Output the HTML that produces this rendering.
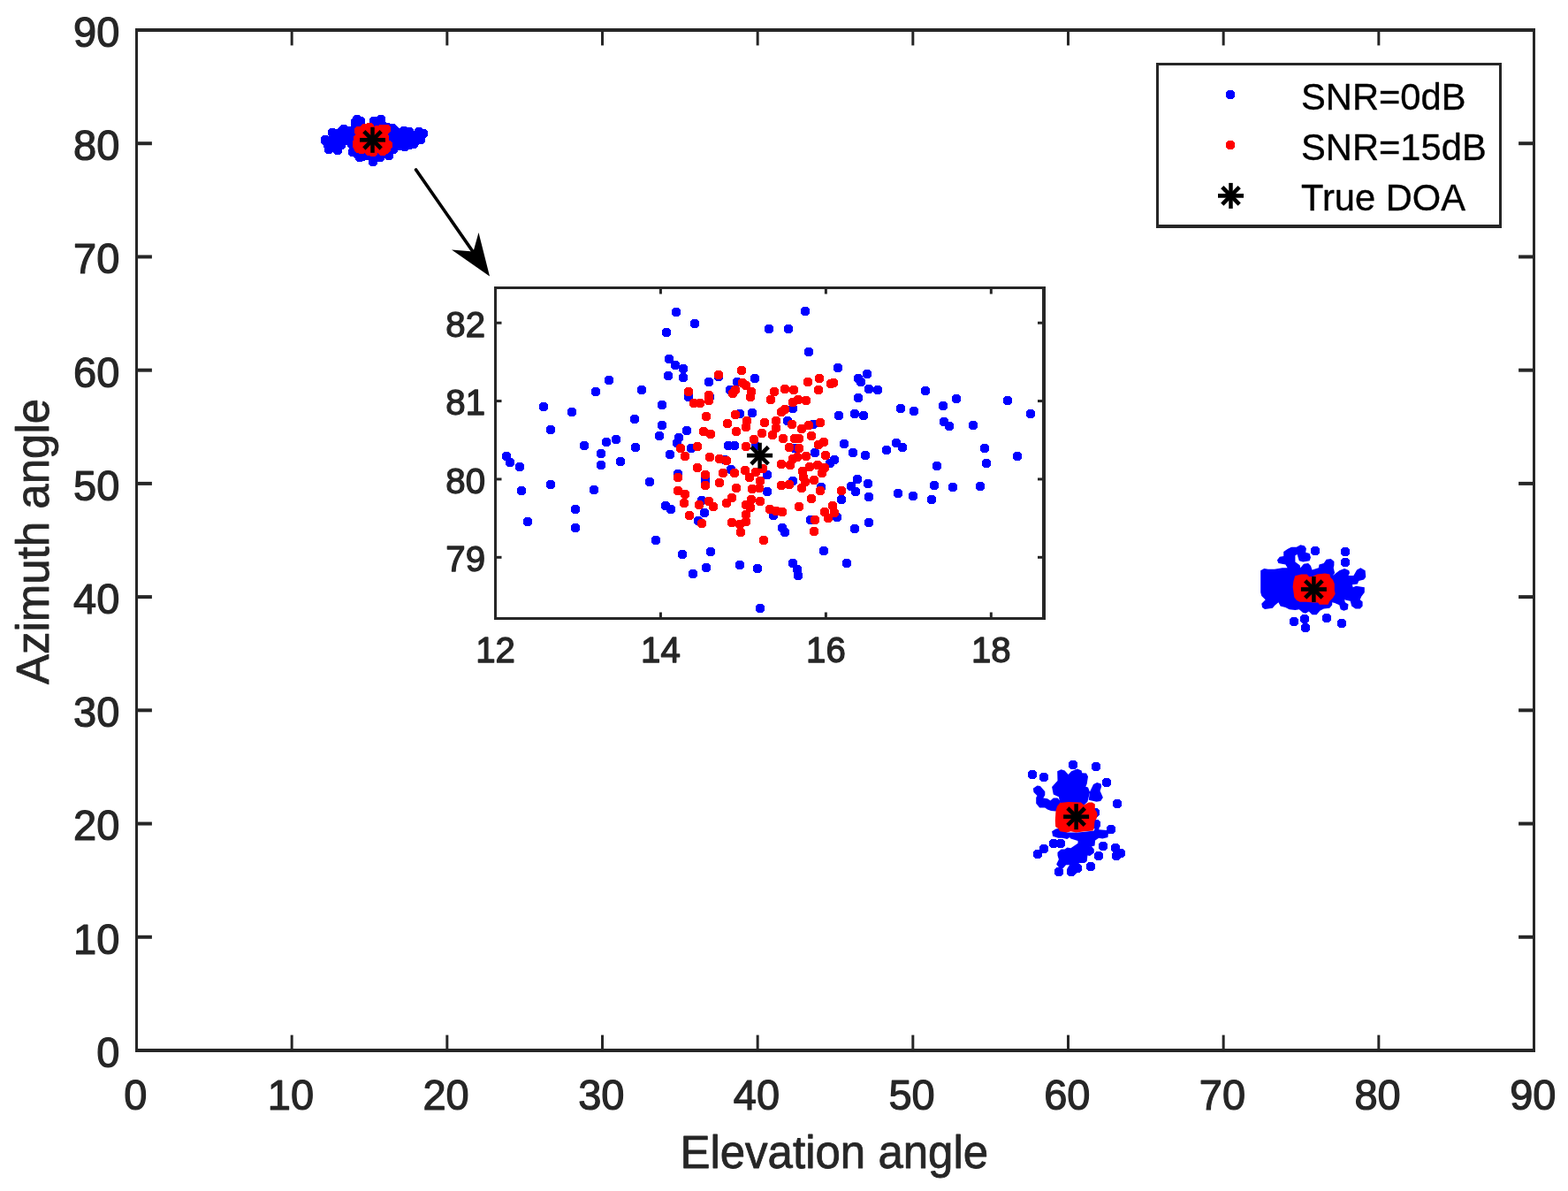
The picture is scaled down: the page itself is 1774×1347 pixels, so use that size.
<!DOCTYPE html>
<html><head><meta charset="utf-8"><title>DOA estimation scatter</title>
<style>html,body{margin:0;padding:0;background:#fff;} svg{display:block;}</style></head>
<body>
<svg width="1774" height="1347" viewBox="0 0 1774 1347">
<rect width="1774" height="1347" fill="#ffffff"/>
<path fill="#0000ff" shape-rendering="crispEdges" d="M401,130h6v1h1v1h1v6h-1v1h-1v1h-6v-1h-1v-1h-1v-6h1v-1h1zM399,133h6v1h1v1h1v6h-1v1h-1v1h-6v-1h-1v-1h-1v-6h1v-1h1zM399,137h6v1h1v1h1v6h-1v1h-1v1h-6v-1h-1v-1h-1v-6h1v-1h1zM401,138h6v1h1v1h1v6h-1v1h-1v1h-6v-1h-1v-1h-1v-6h1v-1h1zM399,140h6v1h1v1h1v6h-1v1h-1v1h-6v-1h-1v-1h-1v-6h1v-1h1zM386,141h6v1h1v1h1v6h-1v1h-1v1h-6v-1h-1v-1h-1v-6h1v-1h1zM384,143h6v1h1v1h1v6h-1v1h-1v1h-6v-1h-1v-1h-1v-6h1v-1h1zM393,143h6v1h1v1h1v6h-1v1h-1v1h-6v-1h-1v-1h-1v-6h1v-1h1zM398,145h6v1h1v1h1v6h-1v1h-1v1h-6v-1h-1v-1h-1v-6h1v-1h1zM373,145h6v1h1v1h1v6h-1v1h-1v1h-6v-1h-1v-1h-1v-6h1v-1h1zM379,146h6v1h1v1h1v6h-1v1h-1v1h-6v-1h-1v-1h-1v-6h1v-1h1zM392,147h6v1h1v1h1v6h-1v1h-1v1h-6v-1h-1v-1h-1v-6h1v-1h1zM398,148h6v1h1v1h1v6h-1v1h-1v1h-6v-1h-1v-1h-1v-6h1v-1h1zM374,149h6v1h1v1h1v6h-1v1h-1v1h-6v-1h-1v-1h-1v-6h1v-1h1zM397,150h6v1h1v1h1v6h-1v1h-1v1h-6v-1h-1v-1h-1v-6h1v-1h1zM388,151h6v1h1v1h1v6h-1v1h-1v1h-6v-1h-1v-1h-1v-6h1v-1h1zM386,151h6v1h1v1h1v6h-1v1h-1v1h-6v-1h-1v-1h-1v-6h1v-1h1zM381,152h6v1h1v1h1v6h-1v1h-1v1h-6v-1h-1v-1h-1v-6h1v-1h1zM392,152h6v1h1v1h1v6h-1v1h-1v1h-6v-1h-1v-1h-1v-6h1v-1h1zM385,153h6v1h1v1h1v6h-1v1h-1v1h-6v-1h-1v-1h-1v-6h1v-1h1zM389,154h6v1h1v1h1v6h-1v1h-1v1h-6v-1h-1v-1h-1v-6h1v-1h1zM385,155h6v1h1v1h1v6h-1v1h-1v1h-6v-1h-1v-1h-1v-6h1v-1h1zM399,153h6v1h1v1h1v6h-1v1h-1v1h-6v-1h-1v-1h-1v-6h1v-1h1zM365,153h6v1h1v1h1v6h-1v1h-1v1h-6v-1h-1v-1h-1v-6h1v-1h1zM365,154h6v1h1v1h1v6h-1v1h-1v1h-6v-1h-1v-1h-1v-6h1v-1h1zM367,155h6v1h1v1h1v6h-1v1h-1v1h-6v-1h-1v-1h-1v-6h1v-1h1zM374,158h6v1h1v1h1v6h-1v1h-1v1h-6v-1h-1v-1h-1v-6h1v-1h1zM368,159h6v1h1v1h1v6h-1v1h-1v1h-6v-1h-1v-1h-1v-6h1v-1h1zM383,159h6v1h1v1h1v6h-1v1h-1v1h-6v-1h-1v-1h-1v-6h1v-1h1zM395,158h6v1h1v1h1v6h-1v1h-1v1h-6v-1h-1v-1h-1v-6h1v-1h1zM379,162h6v1h1v1h1v6h-1v1h-1v1h-6v-1h-1v-1h-1v-6h1v-1h1zM399,162h6v1h1v1h1v6h-1v1h-1v1h-6v-1h-1v-1h-1v-6h1v-1h1zM400,162h6v1h1v1h1v6h-1v1h-1v1h-6v-1h-1v-1h-1v-6h1v-1h1zM369,164h6v1h1v1h1v6h-1v1h-1v1h-6v-1h-1v-1h-1v-6h1v-1h1zM379,165h6v1h1v1h1v6h-1v1h-1v1h-6v-1h-1v-1h-1v-6h1v-1h1zM396,167h6v1h1v1h1v6h-1v1h-1v1h-6v-1h-1v-1h-1v-6h1v-1h1zM405,132h6v1h1v1h1v6h-1v1h-1v1h-6v-1h-1v-1h-1v-6h1v-1h1zM420,132h6v1h1v1h1v6h-1v1h-1v1h-6v-1h-1v-1h-1v-6h1v-1h1zM425,133h6v1h1v1h1v6h-1v1h-1v1h-6v-1h-1v-1h-1v-6h1v-1h1zM428,130h6v1h1v1h1v6h-1v1h-1v1h-6v-1h-1v-1h-1v-6h1v-1h1zM429,136h6v1h1v1h1v6h-1v1h-1v1h-6v-1h-1v-1h-1v-6h1v-1h1zM435,139h6v1h1v1h1v6h-1v1h-1v1h-6v-1h-1v-1h-1v-6h1v-1h1zM435,147h6v1h1v1h1v6h-1v1h-1v1h-6v-1h-1v-1h-1v-6h1v-1h1zM402,139h6v1h1v1h1v6h-1v1h-1v1h-6v-1h-1v-1h-1v-6h1v-1h1zM402,141h6v1h1v1h1v6h-1v1h-1v1h-6v-1h-1v-1h-1v-6h1v-1h1zM408,141h6v1h1v1h1v6h-1v1h-1v1h-6v-1h-1v-1h-1v-6h1v-1h1zM410,140h6v1h1v1h1v6h-1v1h-1v1h-6v-1h-1v-1h-1v-6h1v-1h1zM417,141h6v1h1v1h1v6h-1v1h-1v1h-6v-1h-1v-1h-1v-6h1v-1h1zM414,141h6v1h1v1h1v6h-1v1h-1v1h-6v-1h-1v-1h-1v-6h1v-1h1zM412,143h6v1h1v1h1v6h-1v1h-1v1h-6v-1h-1v-1h-1v-6h1v-1h1zM403,144h6v1h1v1h1v6h-1v1h-1v1h-6v-1h-1v-1h-1v-6h1v-1h1zM408,144h6v1h1v1h1v6h-1v1h-1v1h-6v-1h-1v-1h-1v-6h1v-1h1zM425,146h6v1h1v1h1v6h-1v1h-1v1h-6v-1h-1v-1h-1v-6h1v-1h1zM414,147h6v1h1v1h1v6h-1v1h-1v1h-6v-1h-1v-1h-1v-6h1v-1h1zM417,146h6v1h1v1h1v6h-1v1h-1v1h-6v-1h-1v-1h-1v-6h1v-1h1zM424,148h6v1h1v1h1v6h-1v1h-1v1h-6v-1h-1v-1h-1v-6h1v-1h1zM403,149h6v1h1v1h1v6h-1v1h-1v1h-6v-1h-1v-1h-1v-6h1v-1h1zM401,150h6v1h1v1h1v6h-1v1h-1v1h-6v-1h-1v-1h-1v-6h1v-1h1zM401,151h6v1h1v1h1v6h-1v1h-1v1h-6v-1h-1v-1h-1v-6h1v-1h1zM404,152h6v1h1v1h1v6h-1v1h-1v1h-6v-1h-1v-1h-1v-6h1v-1h1zM412,152h6v1h1v1h1v6h-1v1h-1v1h-6v-1h-1v-1h-1v-6h1v-1h1zM413,152h6v1h1v1h1v6h-1v1h-1v1h-6v-1h-1v-1h-1v-6h1v-1h1zM418,152h6v1h1v1h1v6h-1v1h-1v1h-6v-1h-1v-1h-1v-6h1v-1h1zM411,154h6v1h1v1h1v6h-1v1h-1v1h-6v-1h-1v-1h-1v-6h1v-1h1zM412,156h6v1h1v1h1v6h-1v1h-1v1h-6v-1h-1v-1h-1v-6h1v-1h1zM420,157h6v1h1v1h1v6h-1v1h-1v1h-6v-1h-1v-1h-1v-6h1v-1h1zM401,156h6v1h1v1h1v6h-1v1h-1v1h-6v-1h-1v-1h-1v-6h1v-1h1zM407,157h6v1h1v1h1v6h-1v1h-1v1h-6v-1h-1v-1h-1v-6h1v-1h1zM420,159h6v1h1v1h1v6h-1v1h-1v1h-6v-1h-1v-1h-1v-6h1v-1h1zM426,158h6v1h1v1h1v6h-1v1h-1v1h-6v-1h-1v-1h-1v-6h1v-1h1zM426,152h6v1h1v1h1v6h-1v1h-1v1h-6v-1h-1v-1h-1v-6h1v-1h1zM439,146h6v1h1v1h1v6h-1v1h-1v1h-6v-1h-1v-1h-1v-6h1v-1h1zM441,147h6v1h1v1h1v6h-1v1h-1v1h-6v-1h-1v-1h-1v-6h1v-1h1zM448,146h6v1h1v1h1v6h-1v1h-1v1h-6v-1h-1v-1h-1v-6h1v-1h1zM430,148h6v1h1v1h1v6h-1v1h-1v1h-6v-1h-1v-1h-1v-6h1v-1h1zM436,151h6v1h1v1h1v6h-1v1h-1v1h-6v-1h-1v-1h-1v-6h1v-1h1zM438,153h6v1h1v1h1v6h-1v1h-1v1h-6v-1h-1v-1h-1v-6h1v-1h1zM441,153h6v1h1v1h1v6h-1v1h-1v1h-6v-1h-1v-1h-1v-6h1v-1h1zM445,152h6v1h1v1h1v6h-1v1h-1v1h-6v-1h-1v-1h-1v-6h1v-1h1zM448,151h6v1h1v1h1v6h-1v1h-1v1h-6v-1h-1v-1h-1v-6h1v-1h1zM449,152h6v1h1v1h1v6h-1v1h-1v1h-6v-1h-1v-1h-1v-6h1v-1h1zM430,153h6v1h1v1h1v6h-1v1h-1v1h-6v-1h-1v-1h-1v-6h1v-1h1zM434,154h6v1h1v1h1v6h-1v1h-1v1h-6v-1h-1v-1h-1v-6h1v-1h1zM433,155h6v1h1v1h1v6h-1v1h-1v1h-6v-1h-1v-1h-1v-6h1v-1h1zM439,157h6v1h1v1h1v6h-1v1h-1v1h-6v-1h-1v-1h-1v-6h1v-1h1zM441,158h6v1h1v1h1v6h-1v1h-1v1h-6v-1h-1v-1h-1v-6h1v-1h1zM438,158h6v1h1v1h1v6h-1v1h-1v1h-6v-1h-1v-1h-1v-6h1v-1h1zM439,159h6v1h1v1h1v6h-1v1h-1v1h-6v-1h-1v-1h-1v-6h1v-1h1zM448,160h6v1h1v1h1v6h-1v1h-1v1h-6v-1h-1v-1h-1v-6h1v-1h1zM432,159h6v1h1v1h1v6h-1v1h-1v1h-6v-1h-1v-1h-1v-6h1v-1h1zM406,161h6v1h1v1h1v6h-1v1h-1v1h-6v-1h-1v-1h-1v-6h1v-1h1zM407,163h6v1h1v1h1v6h-1v1h-1v1h-6v-1h-1v-1h-1v-6h1v-1h1zM406,164h6v1h1v1h1v6h-1v1h-1v1h-6v-1h-1v-1h-1v-6h1v-1h1zM421,163h6v1h1v1h1v6h-1v1h-1v1h-6v-1h-1v-1h-1v-6h1v-1h1zM423,165h6v1h1v1h1v6h-1v1h-1v1h-6v-1h-1v-1h-1v-6h1v-1h1zM424,166h6v1h1v1h1v6h-1v1h-1v1h-6v-1h-1v-1h-1v-6h1v-1h1zM402,170h6v1h1v1h1v6h-1v1h-1v1h-6v-1h-1v-1h-1v-6h1v-1h1zM408,169h6v1h1v1h1v6h-1v1h-1v1h-6v-1h-1v-1h-1v-6h1v-1h1zM407,172h6v1h1v1h1v6h-1v1h-1v1h-6v-1h-1v-1h-1v-6h1v-1h1zM404,173h6v1h1v1h1v6h-1v1h-1v1h-6v-1h-1v-1h-1v-6h1v-1h1zM414,171h6v1h1v1h1v6h-1v1h-1v1h-6v-1h-1v-1h-1v-6h1v-1h1zM418,172h6v1h1v1h1v6h-1v1h-1v1h-6v-1h-1v-1h-1v-6h1v-1h1zM426,171h6v1h1v1h1v6h-1v1h-1v1h-6v-1h-1v-1h-1v-6h1v-1h1zM426,172h6v1h1v1h1v6h-1v1h-1v1h-6v-1h-1v-1h-1v-6h1v-1h1zM427,173h6v1h1v1h1v6h-1v1h-1v1h-6v-1h-1v-1h-1v-6h1v-1h1zM437,171h6v1h1v1h1v6h-1v1h-1v1h-6v-1h-1v-1h-1v-6h1v-1h1zM419,178h6v1h1v1h1v6h-1v1h-1v1h-6v-1h-1v-1h-1v-6h1v-1h1zM442,160h6v1h1v1h1v6h-1v1h-1v1h-6v-1h-1v-1h-1v-6h1v-1h1zM436,161h6v1h1v1h1v6h-1v1h-1v1h-6v-1h-1v-1h-1v-6h1v-1h1zM435,163h6v1h1v1h1v6h-1v1h-1v1h-6v-1h-1v-1h-1v-6h1v-1h1zM429,164h6v1h1v1h1v6h-1v1h-1v1h-6v-1h-1v-1h-1v-6h1v-1h1zM439,165h6v1h1v1h1v6h-1v1h-1v1h-6v-1h-1v-1h-1v-6h1v-1h1zM442,164h6v1h1v1h1v6h-1v1h-1v1h-6v-1h-1v-1h-1v-6h1v-1h1zM432,169h6v1h1v1h1v6h-1v1h-1v1h-6v-1h-1v-1h-1v-6h1v-1h1zM441,140h6v1h1v1h1v6h-1v1h-1v1h-6v-1h-1v-1h-1v-6h1v-1h1zM439,141h6v1h1v1h1v6h-1v1h-1v1h-6v-1h-1v-1h-1v-6h1v-1h1zM440,141h6v1h1v1h1v6h-1v1h-1v1h-6v-1h-1v-1h-1v-6h1v-1h1zM442,142h6v1h1v1h1v6h-1v1h-1v1h-6v-1h-1v-1h-1v-6h1v-1h1zM444,143h6v1h1v1h1v6h-1v1h-1v1h-6v-1h-1v-1h-1v-6h1v-1h1zM439,144h6v1h1v1h1v6h-1v1h-1v1h-6v-1h-1v-1h-1v-6h1v-1h1zM451,146h6v1h1v1h1v6h-1v1h-1v1h-6v-1h-1v-1h-1v-6h1v-1h1zM454,143h6v1h1v1h1v6h-1v1h-1v1h-6v-1h-1v-1h-1v-6h1v-1h1zM457,145h6v1h1v1h1v6h-1v1h-1v1h-6v-1h-1v-1h-1v-6h1v-1h1zM460,144h6v1h1v1h1v6h-1v1h-1v1h-6v-1h-1v-1h-1v-6h1v-1h1zM471,144h6v1h1v1h1v6h-1v1h-1v1h-6v-1h-1v-1h-1v-6h1v-1h1zM476,146h6v1h1v1h1v6h-1v1h-1v1h-6v-1h-1v-1h-1v-6h1v-1h1zM458,148h6v1h1v1h1v6h-1v1h-1v1h-6v-1h-1v-1h-1v-6h1v-1h1zM459,149h6v1h1v1h1v6h-1v1h-1v1h-6v-1h-1v-1h-1v-6h1v-1h1zM464,148h6v1h1v1h1v6h-1v1h-1v1h-6v-1h-1v-1h-1v-6h1v-1h1zM466,152h6v1h1v1h1v6h-1v1h-1v1h-6v-1h-1v-1h-1v-6h1v-1h1zM473,153h6v1h1v1h1v6h-1v1h-1v1h-6v-1h-1v-1h-1v-6h1v-1h1zM467,155h6v1h1v1h1v6h-1v1h-1v1h-6v-1h-1v-1h-1v-6h1v-1h1zM456,155h6v1h1v1h1v6h-1v1h-1v1h-6v-1h-1v-1h-1v-6h1v-1h1zM456,158h6v1h1v1h1v6h-1v1h-1v1h-6v-1h-1v-1h-1v-6h1v-1h1zM460,159h6v1h1v1h1v6h-1v1h-1v1h-6v-1h-1v-1h-1v-6h1v-1h1zM465,158h6v1h1v1h1v6h-1v1h-1v1h-6v-1h-1v-1h-1v-6h1v-1h1zM451,160h6v1h1v1h1v6h-1v1h-1v1h-6v-1h-1v-1h-1v-6h1v-1h1zM455,161h6v1h1v1h1v6h-1v1h-1v1h-6v-1h-1v-1h-1v-6h1v-1h1zM1211,860h6v1h1v1h1v6h-1v1h-1v1h-6v-1h-1v-1h-1v-6h1v-1h1zM1237,862h6v1h1v1h1v6h-1v1h-1v1h-6v-1h-1v-1h-1v-6h1v-1h1zM1165,871h6v1h1v1h1v6h-1v1h-1v1h-6v-1h-1v-1h-1v-6h1v-1h1zM1178,874h6v1h1v1h1v6h-1v1h-1v1h-6v-1h-1v-1h-1v-6h1v-1h1zM1249,880h6v1h1v1h1v6h-1v1h-1v1h-6v-1h-1v-1h-1v-6h1v-1h1zM1261,904h6v1h1v1h1v6h-1v1h-1v1h-6v-1h-1v-1h-1v-6h1v-1h1zM1178,955h6v1h1v1h1v6h-1v1h-1v1h-6v-1h-1v-1h-1v-6h1v-1h1zM1171,961h6v1h1v1h1v6h-1v1h-1v1h-6v-1h-1v-1h-1v-6h1v-1h1zM1245,952h6v1h1v1h1v6h-1v1h-1v1h-6v-1h-1v-1h-1v-6h1v-1h1zM1240,963h6v1h1v1h1v6h-1v1h-1v1h-6v-1h-1v-1h-1v-6h1v-1h1zM1231,975h6v1h1v1h1v6h-1v1h-1v1h-6v-1h-1v-1h-1v-6h1v-1h1zM1259,954h6v1h1v1h1v6h-1v1h-1v1h-6v-1h-1v-1h-1v-6h1v-1h1zM1265,960h6v1h1v1h1v6h-1v1h-1v1h-6v-1h-1v-1h-1v-6h1v-1h1zM1260,963h6v1h1v1h1v6h-1v1h-1v1h-6v-1h-1v-1h-1v-6h1v-1h1zM1254,933h6v1h1v1h1v6h-1v1h-1v1h-6v-1h-1v-1h-1v-6h1v-1h1zM1236,914h6v1h1v1h1v6h-1v1h-1v1h-6v-1h-1v-1h-1v-6h1v-1h1zM1237,927h6v1h1v1h1v6h-1v1h-1v1h-6v-1h-1v-1h-1v-6h1v-1h1zM1189,949h6v1h1v1h1v6h-1v1h-1v1h-6v-1h-1v-1h-1v-6h1v-1h1zM1197,949h6v1h1v1h1v6h-1v1h-1v1h-6v-1h-1v-1h-1v-6h1v-1h1zM1195,981h6v1h1v1h1v6h-1v1h-1v1h-6v-1h-1v-1h-1v-6h1v-1h1zM1209,981h6v1h1v1h1v6h-1v1h-1v1h-6v-1h-1v-1h-1v-6h1v-1h1zM1216,977h6v1h1v1h1v6h-1v1h-1v1h-6v-1h-1v-1h-1v-6h1v-1h1zM1485,618h6v1h1v1h1v6h-1v1h-1v1h-6v-1h-1v-1h-1v-6h1v-1h1zM1519,619h6v1h1v1h1v6h-1v1h-1v1h-6v-1h-1v-1h-1v-6h1v-1h1zM1519,631h6v1h1v1h1v6h-1v1h-1v1h-6v-1h-1v-1h-1v-6h1v-1h1zM1461,698h6v1h1v1h1v6h-1v1h-1v1h-6v-1h-1v-1h-1v-6h1v-1h1zM1473,695h6v1h1v1h1v6h-1v1h-1v1h-6v-1h-1v-1h-1v-6h1v-1h1zM1474,705h6v1h1v1h1v6h-1v1h-1v1h-6v-1h-1v-1h-1v-6h1v-1h1zM1498,694h6v1h1v1h1v6h-1v1h-1v1h-6v-1h-1v-1h-1v-6h1v-1h1zM1515,700h6v1h1v1h1v6h-1v1h-1v1h-6v-1h-1v-1h-1v-6h1v-1h1z"/>
<polygon fill="#0000ff" points="1196.2,872.2 1200.6,870.2 1204.6,871.5 1208.7,875.9 1212.1,872.2 1218.9,869.5 1223.6,871.5 1224.3,874.2 1229.0,874.6 1231.0,878.3 1229.7,886.4 1228.3,889.8 1231.0,890.5 1233.1,895.9 1230.4,906.7 1226.3,910.8 1199.2,908.1 1197.9,901.3 1191.8,898.6 1190.1,890.1 1196.5,883.0"/>
<polygon fill="#0000ff" points="1233.1,895.2 1237.1,887.1 1241.2,885.1 1245.6,886.4 1246.2,889.5 1244.6,894.5 1247.9,902.0 1245.2,906.0 1240.5,906.7 1231.7,904.7"/>
<polygon fill="#0000ff" points="1168.8,891.8 1173.5,888.4 1176.9,889.1 1182.3,895.2 1182.3,899.3 1180.3,902.6 1185.0,903.3 1188.4,905.4 1191.8,902.6 1196.5,902.6 1199.2,905.4 1199.2,912.1 1194.5,917.5 1189.1,916.9 1185.0,915.5 1182.3,913.5 1176.2,913.5 1172.2,908.7 1172.2,902.0 1173.5,899.9 1169.5,895.9"/>
<polygon fill="#0000ff" points="1190.1,940.3 1194.5,937.6 1197.9,936.9 1207.4,941.6 1218.9,941.6 1224.9,941.0 1237.8,939.6 1241.2,928.1 1244.6,932.9 1243.2,938.3 1252.0,938.9 1254.0,942.3 1253.4,947.1 1247.3,948.4 1243.2,947.7 1239.1,950.4 1238.5,956.5 1235.1,957.2 1237.8,960.6 1237.8,964.6 1233.1,968.0 1230.4,967.4 1229.7,974.1 1227.0,976.1 1220.2,976.1 1223.6,978.9 1224.3,984.3 1218.2,987.6 1212.8,990.4 1207.4,987.0 1207.4,982.2 1210.1,978.2 1206.0,978.2 1201.9,982.9 1197.9,980.9 1195.2,977.5 1197.9,972.1 1196.5,967.4 1196.5,964.0 1200.6,960.6 1204.6,960.6 1207.4,958.6 1211.4,959.2 1219.5,953.8 1219.5,951.1 1211.4,948.4 1210.1,947.1 1207.4,949.1 1201.9,947.7 1197.2,947.7 1191.1,945.7"/>
<polygon fill="#0000ff" points="1426.2,670.0 1426.2,645.2 1430.3,643.0 1434.7,643.7 1442.0,643.7 1446.4,643.0 1450.8,642.2 1456.6,642.2 1454.4,638.6 1446.4,637.1 1444.9,633.5 1447.8,629.8 1452.2,629.1 1452.2,623.9 1456.6,621.0 1461.0,618.8 1466.9,618.8 1471.3,616.2 1475.7,617.3 1477.9,620.3 1477.2,624.7 1481.6,626.1 1483.0,630.5 1481.6,634.2 1474.2,635.6 1469.8,634.2 1467.6,626.9 1465.4,628.3 1465.4,635.6 1470.6,639.3 1471.3,642.2 1475.0,637.8 1480.1,637.1 1483.0,640.0 1484.5,644.4 1491.8,642.2 1492.5,638.6 1497.7,637.1 1500.6,632.7 1505.7,632.0 1509.4,634.9 1509.4,639.3 1508.7,642.2 1510.1,648.1 1507.9,651.0 1515.3,645.2 1521.1,643.0 1526.3,645.2 1527.0,648.1 1525.5,651.0 1531.4,651.0 1535.1,644.4 1539.4,642.2 1544.6,645.2 1545.3,652.5 1543.1,655.4 1537.3,656.9 1535.8,660.6 1529.9,661.3 1530.7,664.2 1534.3,662.8 1543.8,664.2 1543.8,670.0 1543.8,670.0 1540.2,674.7 1538.7,678.3 1541.6,680.5 1541.6,685.6 1538.7,688.6 1533.6,688.6 1529.2,685.6 1527.7,679.8 1521.1,678.3 1521.9,681.3 1525.5,683.5 1524.8,689.3 1520.4,690.8 1516.7,689.3 1515.3,684.2 1510.1,682.0 1507.2,681.3 1507.2,684.2 1504.3,687.8 1497.7,688.6 1493.3,690.8 1489.6,695.2 1484.5,695.2 1480.8,691.5 1477.2,693.7 1474.2,693.0 1469.8,689.3 1465.4,690.0 1458.8,689.3 1454.4,687.1 1448.6,685.6 1446.4,681.3 1442.0,684.9 1439.8,687.8 1431.0,688.9 1428.1,687.1 1427.3,682.7 1431.7,678.3 1427.3,673.9 1426.2,670.0"/>
<path fill="#ff0000" shape-rendering="crispEdges" d="M415,139h6v1h1v1h1v6h-1v1h-1v1h-6v-1h-1v-1h-1v-6h1v-1h1zM410,140h6v1h1v1h1v6h-1v1h-1v1h-6v-1h-1v-1h-1v-6h1v-1h1zM429,141h6v1h1v1h1v6h-1v1h-1v1h-6v-1h-1v-1h-1v-6h1v-1h1zM431,141h6v1h1v1h1v6h-1v1h-1v1h-6v-1h-1v-1h-1v-6h1v-1h1zM434,141h6v1h1v1h1v6h-1v1h-1v1h-6v-1h-1v-1h-1v-6h1v-1h1zM434,141h6v1h1v1h1v6h-1v1h-1v1h-6v-1h-1v-1h-1v-6h1v-1h1zM431,143h6v1h1v1h1v6h-1v1h-1v1h-6v-1h-1v-1h-1v-6h1v-1h1zM403,143h6v1h1v1h1v6h-1v1h-1v1h-6v-1h-1v-1h-1v-6h1v-1h1zM408,143h6v1h1v1h1v6h-1v1h-1v1h-6v-1h-1v-1h-1v-6h1v-1h1zM408,144h6v1h1v1h1v6h-1v1h-1v1h-6v-1h-1v-1h-1v-6h1v-1h1zM405,145h6v1h1v1h1v6h-1v1h-1v1h-6v-1h-1v-1h-1v-6h1v-1h1zM406,145h6v1h1v1h1v6h-1v1h-1v1h-6v-1h-1v-1h-1v-6h1v-1h1zM415,141h6v1h1v1h1v6h-1v1h-1v1h-6v-1h-1v-1h-1v-6h1v-1h1zM416,142h6v1h1v1h1v6h-1v1h-1v1h-6v-1h-1v-1h-1v-6h1v-1h1zM413,143h6v1h1v1h1v6h-1v1h-1v1h-6v-1h-1v-1h-1v-6h1v-1h1zM413,143h6v1h1v1h1v6h-1v1h-1v1h-6v-1h-1v-1h-1v-6h1v-1h1zM417,143h6v1h1v1h1v6h-1v1h-1v1h-6v-1h-1v-1h-1v-6h1v-1h1zM417,144h6v1h1v1h1v6h-1v1h-1v1h-6v-1h-1v-1h-1v-6h1v-1h1zM422,143h6v1h1v1h1v6h-1v1h-1v1h-6v-1h-1v-1h-1v-6h1v-1h1zM421,144h6v1h1v1h1v6h-1v1h-1v1h-6v-1h-1v-1h-1v-6h1v-1h1zM424,142h6v1h1v1h1v6h-1v1h-1v1h-6v-1h-1v-1h-1v-6h1v-1h1zM426,143h6v1h1v1h1v6h-1v1h-1v1h-6v-1h-1v-1h-1v-6h1v-1h1zM427,144h6v1h1v1h1v6h-1v1h-1v1h-6v-1h-1v-1h-1v-6h1v-1h1zM426,145h6v1h1v1h1v6h-1v1h-1v1h-6v-1h-1v-1h-1v-6h1v-1h1zM428,144h6v1h1v1h1v6h-1v1h-1v1h-6v-1h-1v-1h-1v-6h1v-1h1zM424,146h6v1h1v1h1v6h-1v1h-1v1h-6v-1h-1v-1h-1v-6h1v-1h1zM423,146h6v1h1v1h1v6h-1v1h-1v1h-6v-1h-1v-1h-1v-6h1v-1h1zM407,147h6v1h1v1h1v6h-1v1h-1v1h-6v-1h-1v-1h-1v-6h1v-1h1zM413,147h6v1h1v1h1v6h-1v1h-1v1h-6v-1h-1v-1h-1v-6h1v-1h1zM412,148h6v1h1v1h1v6h-1v1h-1v1h-6v-1h-1v-1h-1v-6h1v-1h1zM413,149h6v1h1v1h1v6h-1v1h-1v1h-6v-1h-1v-1h-1v-6h1v-1h1zM416,148h6v1h1v1h1v6h-1v1h-1v1h-6v-1h-1v-1h-1v-6h1v-1h1zM416,149h6v1h1v1h1v6h-1v1h-1v1h-6v-1h-1v-1h-1v-6h1v-1h1zM420,148h6v1h1v1h1v6h-1v1h-1v1h-6v-1h-1v-1h-1v-6h1v-1h1zM419,150h6v1h1v1h1v6h-1v1h-1v1h-6v-1h-1v-1h-1v-6h1v-1h1zM422,148h6v1h1v1h1v6h-1v1h-1v1h-6v-1h-1v-1h-1v-6h1v-1h1zM422,149h6v1h1v1h1v6h-1v1h-1v1h-6v-1h-1v-1h-1v-6h1v-1h1zM425,148h6v1h1v1h1v6h-1v1h-1v1h-6v-1h-1v-1h-1v-6h1v-1h1zM421,150h6v1h1v1h1v6h-1v1h-1v1h-6v-1h-1v-1h-1v-6h1v-1h1zM423,150h6v1h1v1h1v6h-1v1h-1v1h-6v-1h-1v-1h-1v-6h1v-1h1zM417,151h6v1h1v1h1v6h-1v1h-1v1h-6v-1h-1v-1h-1v-6h1v-1h1zM407,149h6v1h1v1h1v6h-1v1h-1v1h-6v-1h-1v-1h-1v-6h1v-1h1zM408,150h6v1h1v1h1v6h-1v1h-1v1h-6v-1h-1v-1h-1v-6h1v-1h1zM405,152h6v1h1v1h1v6h-1v1h-1v1h-6v-1h-1v-1h-1v-6h1v-1h1zM402,152h6v1h1v1h1v6h-1v1h-1v1h-6v-1h-1v-1h-1v-6h1v-1h1zM403,153h6v1h1v1h1v6h-1v1h-1v1h-6v-1h-1v-1h-1v-6h1v-1h1zM416,152h6v1h1v1h1v6h-1v1h-1v1h-6v-1h-1v-1h-1v-6h1v-1h1zM408,154h6v1h1v1h1v6h-1v1h-1v1h-6v-1h-1v-1h-1v-6h1v-1h1zM410,154h6v1h1v1h1v6h-1v1h-1v1h-6v-1h-1v-1h-1v-6h1v-1h1zM411,154h6v1h1v1h1v6h-1v1h-1v1h-6v-1h-1v-1h-1v-6h1v-1h1zM405,155h6v1h1v1h1v6h-1v1h-1v1h-6v-1h-1v-1h-1v-6h1v-1h1zM411,156h6v1h1v1h1v6h-1v1h-1v1h-6v-1h-1v-1h-1v-6h1v-1h1zM413,156h6v1h1v1h1v6h-1v1h-1v1h-6v-1h-1v-1h-1v-6h1v-1h1zM415,156h6v1h1v1h1v6h-1v1h-1v1h-6v-1h-1v-1h-1v-6h1v-1h1zM419,155h6v1h1v1h1v6h-1v1h-1v1h-6v-1h-1v-1h-1v-6h1v-1h1zM418,156h6v1h1v1h1v6h-1v1h-1v1h-6v-1h-1v-1h-1v-6h1v-1h1zM416,157h6v1h1v1h1v6h-1v1h-1v1h-6v-1h-1v-1h-1v-6h1v-1h1zM419,157h6v1h1v1h1v6h-1v1h-1v1h-6v-1h-1v-1h-1v-6h1v-1h1zM401,157h6v1h1v1h1v6h-1v1h-1v1h-6v-1h-1v-1h-1v-6h1v-1h1zM407,157h6v1h1v1h1v6h-1v1h-1v1h-6v-1h-1v-1h-1v-6h1v-1h1zM407,158h6v1h1v1h1v6h-1v1h-1v1h-6v-1h-1v-1h-1v-6h1v-1h1zM410,158h6v1h1v1h1v6h-1v1h-1v1h-6v-1h-1v-1h-1v-6h1v-1h1zM414,159h6v1h1v1h1v6h-1v1h-1v1h-6v-1h-1v-1h-1v-6h1v-1h1zM417,159h6v1h1v1h1v6h-1v1h-1v1h-6v-1h-1v-1h-1v-6h1v-1h1zM418,159h6v1h1v1h1v6h-1v1h-1v1h-6v-1h-1v-1h-1v-6h1v-1h1zM401,159h6v1h1v1h1v6h-1v1h-1v1h-6v-1h-1v-1h-1v-6h1v-1h1zM403,160h6v1h1v1h1v6h-1v1h-1v1h-6v-1h-1v-1h-1v-6h1v-1h1zM423,155h6v1h1v1h1v6h-1v1h-1v1h-6v-1h-1v-1h-1v-6h1v-1h1zM425,155h6v1h1v1h1v6h-1v1h-1v1h-6v-1h-1v-1h-1v-6h1v-1h1zM426,154h6v1h1v1h1v6h-1v1h-1v1h-6v-1h-1v-1h-1v-6h1v-1h1zM425,152h6v1h1v1h1v6h-1v1h-1v1h-6v-1h-1v-1h-1v-6h1v-1h1zM426,150h6v1h1v1h1v6h-1v1h-1v1h-6v-1h-1v-1h-1v-6h1v-1h1zM423,158h6v1h1v1h1v6h-1v1h-1v1h-6v-1h-1v-1h-1v-6h1v-1h1zM425,158h6v1h1v1h1v6h-1v1h-1v1h-6v-1h-1v-1h-1v-6h1v-1h1zM431,148h6v1h1v1h1v6h-1v1h-1v1h-6v-1h-1v-1h-1v-6h1v-1h1zM427,149h6v1h1v1h1v6h-1v1h-1v1h-6v-1h-1v-1h-1v-6h1v-1h1zM429,148h6v1h1v1h1v6h-1v1h-1v1h-6v-1h-1v-1h-1v-6h1v-1h1zM430,150h6v1h1v1h1v6h-1v1h-1v1h-6v-1h-1v-1h-1v-6h1v-1h1zM427,151h6v1h1v1h1v6h-1v1h-1v1h-6v-1h-1v-1h-1v-6h1v-1h1zM432,151h6v1h1v1h1v6h-1v1h-1v1h-6v-1h-1v-1h-1v-6h1v-1h1zM431,152h6v1h1v1h1v6h-1v1h-1v1h-6v-1h-1v-1h-1v-6h1v-1h1zM427,152h6v1h1v1h1v6h-1v1h-1v1h-6v-1h-1v-1h-1v-6h1v-1h1zM432,153h6v1h1v1h1v6h-1v1h-1v1h-6v-1h-1v-1h-1v-6h1v-1h1zM428,153h6v1h1v1h1v6h-1v1h-1v1h-6v-1h-1v-1h-1v-6h1v-1h1zM426,154h6v1h1v1h1v6h-1v1h-1v1h-6v-1h-1v-1h-1v-6h1v-1h1zM429,155h6v1h1v1h1v6h-1v1h-1v1h-6v-1h-1v-1h-1v-6h1v-1h1zM431,155h6v1h1v1h1v6h-1v1h-1v1h-6v-1h-1v-1h-1v-6h1v-1h1zM432,155h6v1h1v1h1v6h-1v1h-1v1h-6v-1h-1v-1h-1v-6h1v-1h1zM428,156h6v1h1v1h1v6h-1v1h-1v1h-6v-1h-1v-1h-1v-6h1v-1h1zM432,156h6v1h1v1h1v6h-1v1h-1v1h-6v-1h-1v-1h-1v-6h1v-1h1zM428,157h6v1h1v1h1v6h-1v1h-1v1h-6v-1h-1v-1h-1v-6h1v-1h1zM430,157h6v1h1v1h1v6h-1v1h-1v1h-6v-1h-1v-1h-1v-6h1v-1h1zM428,158h6v1h1v1h1v6h-1v1h-1v1h-6v-1h-1v-1h-1v-6h1v-1h1zM427,159h6v1h1v1h1v6h-1v1h-1v1h-6v-1h-1v-1h-1v-6h1v-1h1zM431,159h6v1h1v1h1v6h-1v1h-1v1h-6v-1h-1v-1h-1v-6h1v-1h1zM436,159h6v1h1v1h1v6h-1v1h-1v1h-6v-1h-1v-1h-1v-6h1v-1h1zM402,161h6v1h1v1h1v6h-1v1h-1v1h-6v-1h-1v-1h-1v-6h1v-1h1zM406,161h6v1h1v1h1v6h-1v1h-1v1h-6v-1h-1v-1h-1v-6h1v-1h1zM408,161h6v1h1v1h1v6h-1v1h-1v1h-6v-1h-1v-1h-1v-6h1v-1h1zM409,162h6v1h1v1h1v6h-1v1h-1v1h-6v-1h-1v-1h-1v-6h1v-1h1zM403,163h6v1h1v1h1v6h-1v1h-1v1h-6v-1h-1v-1h-1v-6h1v-1h1zM406,164h6v1h1v1h1v6h-1v1h-1v1h-6v-1h-1v-1h-1v-6h1v-1h1zM413,160h6v1h1v1h1v6h-1v1h-1v1h-6v-1h-1v-1h-1v-6h1v-1h1zM411,161h6v1h1v1h1v6h-1v1h-1v1h-6v-1h-1v-1h-1v-6h1v-1h1zM417,161h6v1h1v1h1v6h-1v1h-1v1h-6v-1h-1v-1h-1v-6h1v-1h1zM416,161h6v1h1v1h1v6h-1v1h-1v1h-6v-1h-1v-1h-1v-6h1v-1h1zM419,161h6v1h1v1h1v6h-1v1h-1v1h-6v-1h-1v-1h-1v-6h1v-1h1zM417,162h6v1h1v1h1v6h-1v1h-1v1h-6v-1h-1v-1h-1v-6h1v-1h1zM416,163h6v1h1v1h1v6h-1v1h-1v1h-6v-1h-1v-1h-1v-6h1v-1h1zM413,164h6v1h1v1h1v6h-1v1h-1v1h-6v-1h-1v-1h-1v-6h1v-1h1zM416,164h6v1h1v1h1v6h-1v1h-1v1h-6v-1h-1v-1h-1v-6h1v-1h1zM414,165h6v1h1v1h1v6h-1v1h-1v1h-6v-1h-1v-1h-1v-6h1v-1h1zM415,166h6v1h1v1h1v6h-1v1h-1v1h-6v-1h-1v-1h-1v-6h1v-1h1zM419,167h6v1h1v1h1v6h-1v1h-1v1h-6v-1h-1v-1h-1v-6h1v-1h1zM421,162h6v1h1v1h1v6h-1v1h-1v1h-6v-1h-1v-1h-1v-6h1v-1h1zM422,162h6v1h1v1h1v6h-1v1h-1v1h-6v-1h-1v-1h-1v-6h1v-1h1zM423,163h6v1h1v1h1v6h-1v1h-1v1h-6v-1h-1v-1h-1v-6h1v-1h1zM429,160h6v1h1v1h1v6h-1v1h-1v1h-6v-1h-1v-1h-1v-6h1v-1h1zM427,162h6v1h1v1h1v6h-1v1h-1v1h-6v-1h-1v-1h-1v-6h1v-1h1zM434,162h6v1h1v1h1v6h-1v1h-1v1h-6v-1h-1v-1h-1v-6h1v-1h1zM432,163h6v1h1v1h1v6h-1v1h-1v1h-6v-1h-1v-1h-1v-6h1v-1h1zM434,163h6v1h1v1h1v6h-1v1h-1v1h-6v-1h-1v-1h-1v-6h1v-1h1zM433,164h6v1h1v1h1v6h-1v1h-1v1h-6v-1h-1v-1h-1v-6h1v-1h1zM430,164h6v1h1v1h1v6h-1v1h-1v1h-6v-1h-1v-1h-1v-6h1v-1h1zM430,166h6v1h1v1h1v6h-1v1h-1v1h-6v-1h-1v-1h-1v-6h1v-1h1z"/>
<polygon fill="#ff0000" points="1199.2,908.1 1208.7,907.0 1222.9,907.4 1226.3,910.4 1231.7,907.4 1235.8,907.4 1238.8,909.4 1238.8,915.5 1240.8,918.2 1241.6,921.4 1240.8,925.4 1238.5,928.8 1237.8,936.9 1236.4,939.6 1227.6,940.3 1217.5,941.6 1211.4,940.3 1207.4,941.6 1199.2,940.3 1197.2,936.9 1194.2,934.9 1193.8,928.0 1194.5,916.9 1196.0,912.0"/>
<polygon fill="#ff0000" points="1465.2,651.3 1472.3,649.5 1478.6,649.5 1481.3,652.2 1485.7,651.8 1490.2,649.5 1499.1,648.6 1504.4,649.5 1505.3,653.1 1508.0,655.8 1509.8,660.2 1509.8,667.4 1510.7,671.8 1508.0,676.3 1504.4,679.8 1502.6,683.8 1492.8,683.8 1491.1,681.6 1485.7,681.6 1477.7,680.7 1470.6,680.7 1467.0,678.9 1464.3,675.4 1463.4,669.1 1462.6,663.8 1463.4,657.6"/>
<g stroke="#000" stroke-linecap="butt" fill="none"><line x1="407.0" y1="158.3" x2="436.0" y2="158.3" stroke-width="4.7"/><line x1="421.5" y1="143.8" x2="421.5" y2="172.8" stroke-width="4.5"/><line x1="411.8" y1="148.6" x2="431.2" y2="168.0" stroke-width="4.6"/><line x1="411.8" y1="168.0" x2="431.2" y2="148.6" stroke-width="4.6"/></g>
<g stroke="#000" stroke-linecap="butt" fill="none"><line x1="1203.1" y1="923.7" x2="1232.1" y2="923.7" stroke-width="4.7"/><line x1="1217.6" y1="909.2" x2="1217.6" y2="938.2" stroke-width="4.5"/><line x1="1207.9" y1="914.0" x2="1227.3" y2="933.4" stroke-width="4.6"/><line x1="1207.9" y1="933.4" x2="1227.3" y2="914.0" stroke-width="4.6"/></g>
<g stroke="#000" stroke-linecap="butt" fill="none"><line x1="1471.9" y1="666.5" x2="1500.9" y2="666.5" stroke-width="4.7"/><line x1="1486.4" y1="652.0" x2="1486.4" y2="681.0" stroke-width="4.5"/><line x1="1476.7" y1="656.8" x2="1496.1" y2="676.2" stroke-width="4.6"/><line x1="1476.7" y1="676.2" x2="1496.1" y2="656.8" stroke-width="4.6"/></g>
<g stroke="#262626" fill="none"><line x1="330.17" y1="1188.0" x2="330.17" y2="1170.6" stroke-width="3"/><line x1="330.17" y1="34.0" x2="330.17" y2="51.4" stroke-width="3"/><line x1="154.5" y1="1059.78" x2="171.9" y2="1059.78" stroke-width="4"/><line x1="1735.5" y1="1059.78" x2="1718.1" y2="1059.78" stroke-width="4"/><line x1="505.83" y1="1188.0" x2="505.83" y2="1170.6" stroke-width="3"/><line x1="505.83" y1="34.0" x2="505.83" y2="51.4" stroke-width="3"/><line x1="154.5" y1="931.56" x2="171.9" y2="931.56" stroke-width="4"/><line x1="1735.5" y1="931.56" x2="1718.1" y2="931.56" stroke-width="4"/><line x1="681.50" y1="1188.0" x2="681.50" y2="1170.6" stroke-width="3"/><line x1="681.50" y1="34.0" x2="681.50" y2="51.4" stroke-width="3"/><line x1="154.5" y1="803.33" x2="171.9" y2="803.33" stroke-width="4"/><line x1="1735.5" y1="803.33" x2="1718.1" y2="803.33" stroke-width="4"/><line x1="857.17" y1="1188.0" x2="857.17" y2="1170.6" stroke-width="3"/><line x1="857.17" y1="34.0" x2="857.17" y2="51.4" stroke-width="3"/><line x1="154.5" y1="675.11" x2="171.9" y2="675.11" stroke-width="4"/><line x1="1735.5" y1="675.11" x2="1718.1" y2="675.11" stroke-width="4"/><line x1="1032.83" y1="1188.0" x2="1032.83" y2="1170.6" stroke-width="3"/><line x1="1032.83" y1="34.0" x2="1032.83" y2="51.4" stroke-width="3"/><line x1="154.5" y1="546.89" x2="171.9" y2="546.89" stroke-width="4"/><line x1="1735.5" y1="546.89" x2="1718.1" y2="546.89" stroke-width="4"/><line x1="1208.50" y1="1188.0" x2="1208.50" y2="1170.6" stroke-width="3"/><line x1="1208.50" y1="34.0" x2="1208.50" y2="51.4" stroke-width="3"/><line x1="154.5" y1="418.67" x2="171.9" y2="418.67" stroke-width="4"/><line x1="1735.5" y1="418.67" x2="1718.1" y2="418.67" stroke-width="4"/><line x1="1384.17" y1="1188.0" x2="1384.17" y2="1170.6" stroke-width="3"/><line x1="1384.17" y1="34.0" x2="1384.17" y2="51.4" stroke-width="3"/><line x1="154.5" y1="290.44" x2="171.9" y2="290.44" stroke-width="4"/><line x1="1735.5" y1="290.44" x2="1718.1" y2="290.44" stroke-width="4"/><line x1="1559.83" y1="1188.0" x2="1559.83" y2="1170.6" stroke-width="3"/><line x1="1559.83" y1="34.0" x2="1559.83" y2="51.4" stroke-width="3"/><line x1="154.5" y1="162.22" x2="171.9" y2="162.22" stroke-width="4"/><line x1="1735.5" y1="162.22" x2="1718.1" y2="162.22" stroke-width="4"/><line x1="154.5" y1="32.0" x2="154.5" y2="1190.0" stroke-width="3"/><line x1="1735.5" y1="32.0" x2="1735.5" y2="1190.0" stroke-width="3"/><line x1="153.0" y1="34.0" x2="1737.0" y2="34.0" stroke-width="4"/><line x1="153.0" y1="1188.0" x2="1737.0" y2="1188.0" stroke-width="4"/></g>
<g font-family="'Liberation Sans', Arial, Helvetica, sans-serif" font-size="47" fill="#262626" stroke="#262626" stroke-width="1.2" stroke-linejoin="round"><text transform="translate(153.3,1255.3) scale(1,1.02)" text-anchor="middle">0</text><text transform="translate(329.0,1255.3) scale(1,1.02)" text-anchor="middle">10</text><text transform="translate(504.6,1255.3) scale(1,1.02)" text-anchor="middle">20</text><text transform="translate(680.3,1255.3) scale(1,1.02)" text-anchor="middle">30</text><text transform="translate(856.0,1255.3) scale(1,1.02)" text-anchor="middle">40</text><text transform="translate(1031.6,1255.3) scale(1,1.02)" text-anchor="middle">50</text><text transform="translate(1207.3,1255.3) scale(1,1.02)" text-anchor="middle">60</text><text transform="translate(1383.0,1255.3) scale(1,1.02)" text-anchor="middle">70</text><text transform="translate(1558.6,1255.3) scale(1,1.02)" text-anchor="middle">80</text><text transform="translate(1734.3,1255.3) scale(1,1.02)" text-anchor="middle">90</text><text transform="translate(135.4,1206.8) scale(1,1.02)" text-anchor="end">0</text><text transform="translate(135.4,1078.6) scale(1,1.02)" text-anchor="end">10</text><text transform="translate(135.4,950.4) scale(1,1.02)" text-anchor="end">20</text><text transform="translate(135.4,822.1) scale(1,1.02)" text-anchor="end">30</text><text transform="translate(135.4,693.9) scale(1,1.02)" text-anchor="end">40</text><text transform="translate(135.4,565.7) scale(1,1.02)" text-anchor="end">50</text><text transform="translate(135.4,437.5) scale(1,1.02)" text-anchor="end">60</text><text transform="translate(135.4,309.2) scale(1,1.02)" text-anchor="end">70</text><text transform="translate(135.4,181.0) scale(1,1.02)" text-anchor="end">80</text><text transform="translate(135.4,52.8) scale(1,1.02)" text-anchor="end">90</text></g>
<text x="943.8" y="1321" text-anchor="middle" font-family="'Liberation Sans', Arial, Helvetica, sans-serif" font-size="51" fill="#262626" stroke="#262626" stroke-width="0.8" stroke-linejoin="round">Elevation angle</text>
<text transform="translate(55,612.5) rotate(-90)" x="0" y="0" text-anchor="middle" font-family="'Liberation Sans', Arial, Helvetica, sans-serif" font-size="51" fill="#262626" stroke="#262626" stroke-width="0.8" stroke-linejoin="round">Azimuth angle</text>
<rect x="1309.5" y="72.5" width="388" height="183.5" fill="#fff"/>
<g stroke="#262626"><line x1="1309.5" y1="71" x2="1309.5" y2="258" stroke-width="3"/><line x1="1697.5" y1="71" x2="1697.5" y2="258" stroke-width="3"/><line x1="1308" y1="72.5" x2="1699" y2="72.5" stroke-width="3"/><line x1="1308" y1="256" x2="1699" y2="256" stroke-width="4"/></g>
<path fill="#0000ff" shape-rendering="crispEdges" d="M1389,102h6v1h1v1h1v6h-1v1h-1v1h-6v-1h-1v-1h-1v-6h1v-1h1z"/>
<path fill="#ff0000" shape-rendering="crispEdges" d="M1389,159h6v1h1v1h1v6h-1v1h-1v1h-6v-1h-1v-1h-1v-6h1v-1h1z"/>
<g stroke="#000" stroke-linecap="butt" fill="none"><line x1="1378.0" y1="221.4" x2="1407.0" y2="221.4" stroke-width="4.7"/><line x1="1392.5" y1="206.9" x2="1392.5" y2="235.9" stroke-width="4.5"/><line x1="1382.8" y1="211.7" x2="1402.2" y2="231.1" stroke-width="4.6"/><line x1="1382.8" y1="231.1" x2="1402.2" y2="211.7" stroke-width="4.6"/></g>
<g font-family="'Liberation Sans', Arial, Helvetica, sans-serif" font-size="41.7" fill="#000" stroke="#000" stroke-width="0.35" stroke-linejoin="round"><text transform="translate(1472.0,123.7) scale(1,1.035)" text-anchor="start">SNR=0dB</text><text transform="translate(1472.0,180.7) scale(1,1.035)" text-anchor="start">SNR=15dB</text><text transform="translate(1472.0,237.7) scale(1,1.035)" text-anchor="start">True DOA</text></g>
<rect x="560.5" y="325.5" width="620.5" height="374.0" fill="#fff"/>
<clipPath id="ic"><rect x="560.5" y="325.5" width="620.5" height="374.0"/></clipPath>
<g clip-path="url(#ic)">
<path fill="#0000ff" shape-rendering="crispEdges" d="M762,348h6v1h1v1h1v6h-1v1h-1v1h-6v-1h-1v-1h-1v-6h1v-1h1zM751,371h6v1h1v1h1v6h-1v1h-1v1h-6v-1h-1v-1h-1v-6h1v-1h1zM754,401h6v1h1v1h1v6h-1v1h-1v1h-6v-1h-1v-1h-1v-6h1v-1h1zM761,408h6v1h1v1h1v6h-1v1h-1v1h-6v-1h-1v-1h-1v-6h1v-1h1zM753,420h6v1h1v1h1v6h-1v1h-1v1h-6v-1h-1v-1h-1v-6h1v-1h1zM686,425h6v1h1v1h1v6h-1v1h-1v1h-6v-1h-1v-1h-1v-6h1v-1h1zM671,438h6v1h1v1h1v6h-1v1h-1v1h-6v-1h-1v-1h-1v-6h1v-1h1zM723,436h6v1h1v1h1v6h-1v1h-1v1h-6v-1h-1v-1h-1v-6h1v-1h1zM746,453h6v1h1v1h1v6h-1v1h-1v1h-6v-1h-1v-1h-1v-6h1v-1h1zM612,455h6v1h1v1h1v6h-1v1h-1v1h-6v-1h-1v-1h-1v-6h1v-1h1zM644,461h6v1h1v1h1v6h-1v1h-1v1h-6v-1h-1v-1h-1v-6h1v-1h1zM715,469h6v1h1v1h1v6h-1v1h-1v1h-6v-1h-1v-1h-1v-6h1v-1h1zM746,476h6v1h1v1h1v6h-1v1h-1v1h-6v-1h-1v-1h-1v-6h1v-1h1zM620,481h6v1h1v1h1v6h-1v1h-1v1h-6v-1h-1v-1h-1v-6h1v-1h1zM743,488h6v1h1v1h1v6h-1v1h-1v1h-6v-1h-1v-1h-1v-6h1v-1h1zM694,492h6v1h1v1h1v6h-1v1h-1v1h-6v-1h-1v-1h-1v-6h1v-1h1zM683,495h6v1h1v1h1v6h-1v1h-1v1h-6v-1h-1v-1h-1v-6h1v-1h1zM658,499h6v1h1v1h1v6h-1v1h-1v1h-6v-1h-1v-1h-1v-6h1v-1h1zM716,501h6v1h1v1h1v6h-1v1h-1v1h-6v-1h-1v-1h-1v-6h1v-1h1zM677,508h6v1h1v1h1v6h-1v1h-1v1h-6v-1h-1v-1h-1v-6h1v-1h1zM699,517h6v1h1v1h1v6h-1v1h-1v1h-6v-1h-1v-1h-1v-6h1v-1h1zM677,521h6v1h1v1h1v6h-1v1h-1v1h-6v-1h-1v-1h-1v-6h1v-1h1zM755,509h6v1h1v1h1v6h-1v1h-1v1h-6v-1h-1v-1h-1v-6h1v-1h1zM570,511h6v1h1v1h1v6h-1v1h-1v1h-6v-1h-1v-1h-1v-6h1v-1h1zM574,518h6v1h1v1h1v6h-1v1h-1v1h-6v-1h-1v-1h-1v-6h1v-1h1zM585,523h6v1h1v1h1v6h-1v1h-1v1h-6v-1h-1v-1h-1v-6h1v-1h1zM620,543h6v1h1v1h1v6h-1v1h-1v1h-6v-1h-1v-1h-1v-6h1v-1h1zM587,550h6v1h1v1h1v6h-1v1h-1v1h-6v-1h-1v-1h-1v-6h1v-1h1zM669,549h6v1h1v1h1v6h-1v1h-1v1h-6v-1h-1v-1h-1v-6h1v-1h1zM732,540h6v1h1v1h1v6h-1v1h-1v1h-6v-1h-1v-1h-1v-6h1v-1h1zM648,571h6v1h1v1h1v6h-1v1h-1v1h-6v-1h-1v-1h-1v-6h1v-1h1zM750,567h6v1h1v1h1v6h-1v1h-1v1h-6v-1h-1v-1h-1v-6h1v-1h1zM756,571h6v1h1v1h1v6h-1v1h-1v1h-6v-1h-1v-1h-1v-6h1v-1h1zM594,585h6v1h1v1h1v6h-1v1h-1v1h-6v-1h-1v-1h-1v-6h1v-1h1zM648,592h6v1h1v1h1v6h-1v1h-1v1h-6v-1h-1v-1h-1v-6h1v-1h1zM739,606h6v1h1v1h1v6h-1v1h-1v1h-6v-1h-1v-1h-1v-6h1v-1h1zM783,361h6v1h1v1h1v6h-1v1h-1v1h-6v-1h-1v-1h-1v-6h1v-1h1zM867,367h6v1h1v1h1v6h-1v1h-1v1h-6v-1h-1v-1h-1v-6h1v-1h1zM889,367h6v1h1v1h1v6h-1v1h-1v1h-6v-1h-1v-1h-1v-6h1v-1h1zM908,347h6v1h1v1h1v6h-1v1h-1v1h-6v-1h-1v-1h-1v-6h1v-1h1zM912,393h6v1h1v1h1v6h-1v1h-1v1h-6v-1h-1v-1h-1v-6h1v-1h1zM945,411h6v1h1v1h1v6h-1v1h-1v1h-6v-1h-1v-1h-1v-6h1v-1h1zM946,465h6v1h1v1h1v6h-1v1h-1v1h-6v-1h-1v-1h-1v-6h1v-1h1zM770,412h6v1h1v1h1v6h-1v1h-1v1h-6v-1h-1v-1h-1v-6h1v-1h1zM770,422h6v1h1v1h1v6h-1v1h-1v1h-6v-1h-1v-1h-1v-6h1v-1h1zM799,427h6v1h1v1h1v6h-1v1h-1v1h-6v-1h-1v-1h-1v-6h1v-1h1zM810,421h6v1h1v1h1v6h-1v1h-1v1h-6v-1h-1v-1h-1v-6h1v-1h1zM851,423h6v1h1v1h1v6h-1v1h-1v1h-6v-1h-1v-1h-1v-6h1v-1h1zM831,427h6v1h1v1h1v6h-1v1h-1v1h-6v-1h-1v-1h-1v-6h1v-1h1zM823,436h6v1h1v1h1v6h-1v1h-1v1h-6v-1h-1v-1h-1v-6h1v-1h1zM776,444h6v1h1v1h1v6h-1v1h-1v1h-6v-1h-1v-1h-1v-6h1v-1h1zM800,444h6v1h1v1h1v6h-1v1h-1v1h-6v-1h-1v-1h-1v-6h1v-1h1zM894,457h6v1h1v1h1v6h-1v1h-1v1h-6v-1h-1v-1h-1v-6h1v-1h1zM834,463h6v1h1v1h1v6h-1v1h-1v1h-6v-1h-1v-1h-1v-6h1v-1h1zM848,462h6v1h1v1h1v6h-1v1h-1v1h-6v-1h-1v-1h-1v-6h1v-1h1zM888,471h6v1h1v1h1v6h-1v1h-1v1h-6v-1h-1v-1h-1v-6h1v-1h1zM774,482h6v1h1v1h1v6h-1v1h-1v1h-6v-1h-1v-1h-1v-6h1v-1h1zM765,490h6v1h1v1h1v6h-1v1h-1v1h-6v-1h-1v-1h-1v-6h1v-1h1zM763,496h6v1h1v1h1v6h-1v1h-1v1h-6v-1h-1v-1h-1v-6h1v-1h1zM779,502h6v1h1v1h1v6h-1v1h-1v1h-6v-1h-1v-1h-1v-6h1v-1h1zM821,499h6v1h1v1h1v6h-1v1h-1v1h-6v-1h-1v-1h-1v-6h1v-1h1zM828,499h6v1h1v1h1v6h-1v1h-1v1h-6v-1h-1v-1h-1v-6h1v-1h1zM852,499h6v1h1v1h1v6h-1v1h-1v1h-6v-1h-1v-1h-1v-6h1v-1h1zM817,515h6v1h1v1h1v6h-1v1h-1v1h-6v-1h-1v-1h-1v-6h1v-1h1zM824,526h6v1h1v1h1v6h-1v1h-1v1h-6v-1h-1v-1h-1v-6h1v-1h1zM865,532h6v1h1v1h1v6h-1v1h-1v1h-6v-1h-1v-1h-1v-6h1v-1h1zM764,531h6v1h1v1h1v6h-1v1h-1v1h-6v-1h-1v-1h-1v-6h1v-1h1zM795,538h6v1h1v1h1v6h-1v1h-1v1h-6v-1h-1v-1h-1v-6h1v-1h1zM865,551h6v1h1v1h1v6h-1v1h-1v1h-6v-1h-1v-1h-1v-6h1v-1h1zM894,539h6v1h1v1h1v6h-1v1h-1v1h-6v-1h-1v-1h-1v-6h1v-1h1zM896,502h6v1h1v1h1v6h-1v1h-1v1h-6v-1h-1v-1h-1v-6h1v-1h1zM964,463h6v1h1v1h1v6h-1v1h-1v1h-6v-1h-1v-1h-1v-6h1v-1h1zM974,465h6v1h1v1h1v6h-1v1h-1v1h-6v-1h-1v-1h-1v-6h1v-1h1zM1016,457h6v1h1v1h1v6h-1v1h-1v1h-6v-1h-1v-1h-1v-6h1v-1h1zM917,475h6v1h1v1h1v6h-1v1h-1v1h-6v-1h-1v-1h-1v-6h1v-1h1zM952,497h6v1h1v1h1v6h-1v1h-1v1h-6v-1h-1v-1h-1v-6h1v-1h1zM962,507h6v1h1v1h1v6h-1v1h-1v1h-6v-1h-1v-1h-1v-6h1v-1h1zM976,510h6v1h1v1h1v6h-1v1h-1v1h-6v-1h-1v-1h-1v-6h1v-1h1zM1000,504h6v1h1v1h1v6h-1v1h-1v1h-6v-1h-1v-1h-1v-6h1v-1h1zM1011,496h6v1h1v1h1v6h-1v1h-1v1h-6v-1h-1v-1h-1v-6h1v-1h1zM1018,501h6v1h1v1h1v6h-1v1h-1v1h-6v-1h-1v-1h-1v-6h1v-1h1zM919,507h6v1h1v1h1v6h-1v1h-1v1h-6v-1h-1v-1h-1v-6h1v-1h1zM941,515h6v1h1v1h1v6h-1v1h-1v1h-6v-1h-1v-1h-1v-6h1v-1h1zM936,519h6v1h1v1h1v6h-1v1h-1v1h-6v-1h-1v-1h-1v-6h1v-1h1zM967,537h6v1h1v1h1v6h-1v1h-1v1h-6v-1h-1v-1h-1v-6h1v-1h1zM979,542h6v1h1v1h1v6h-1v1h-1v1h-6v-1h-1v-1h-1v-6h1v-1h1zM960,545h6v1h1v1h1v6h-1v1h-1v1h-6v-1h-1v-1h-1v-6h1v-1h1zM965,551h6v1h1v1h1v6h-1v1h-1v1h-6v-1h-1v-1h-1v-6h1v-1h1zM1013,553h6v1h1v1h1v6h-1v1h-1v1h-6v-1h-1v-1h-1v-6h1v-1h1zM926,546h6v1h1v1h1v6h-1v1h-1v1h-6v-1h-1v-1h-1v-6h1v-1h1zM791,561h6v1h1v1h1v6h-1v1h-1v1h-6v-1h-1v-1h-1v-6h1v-1h1zM794,575h6v1h1v1h1v6h-1v1h-1v1h-6v-1h-1v-1h-1v-6h1v-1h1zM787,584h6v1h1v1h1v6h-1v1h-1v1h-6v-1h-1v-1h-1v-6h1v-1h1zM872,578h6v1h1v1h1v6h-1v1h-1v1h-6v-1h-1v-1h-1v-6h1v-1h1zM882,592h6v1h1v1h1v6h-1v1h-1v1h-6v-1h-1v-1h-1v-6h1v-1h1zM885,597h6v1h1v1h1v6h-1v1h-1v1h-6v-1h-1v-1h-1v-6h1v-1h1zM769,622h6v1h1v1h1v6h-1v1h-1v1h-6v-1h-1v-1h-1v-6h1v-1h1zM801,619h6v1h1v1h1v6h-1v1h-1v1h-6v-1h-1v-1h-1v-6h1v-1h1zM796,637h6v1h1v1h1v6h-1v1h-1v1h-6v-1h-1v-1h-1v-6h1v-1h1zM781,644h6v1h1v1h1v6h-1v1h-1v1h-6v-1h-1v-1h-1v-6h1v-1h1zM834,634h6v1h1v1h1v6h-1v1h-1v1h-6v-1h-1v-1h-1v-6h1v-1h1zM854,638h6v1h1v1h1v6h-1v1h-1v1h-6v-1h-1v-1h-1v-6h1v-1h1zM894,632h6v1h1v1h1v6h-1v1h-1v1h-6v-1h-1v-1h-1v-6h1v-1h1zM899,639h6v1h1v1h1v6h-1v1h-1v1h-6v-1h-1v-1h-1v-6h1v-1h1zM900,646h6v1h1v1h1v6h-1v1h-1v1h-6v-1h-1v-1h-1v-6h1v-1h1zM955,632h6v1h1v1h1v6h-1v1h-1v1h-6v-1h-1v-1h-1v-6h1v-1h1zM857,683h6v1h1v1h1v6h-1v1h-1v1h-6v-1h-1v-1h-1v-6h1v-1h1zM980,557h6v1h1v1h1v6h-1v1h-1v1h-6v-1h-1v-1h-1v-6h1v-1h1zM949,560h6v1h1v1h1v6h-1v1h-1v1h-6v-1h-1v-1h-1v-6h1v-1h1zM944,580h6v1h1v1h1v6h-1v1h-1v1h-6v-1h-1v-1h-1v-6h1v-1h1zM914,583h6v1h1v1h1v6h-1v1h-1v1h-6v-1h-1v-1h-1v-6h1v-1h1zM964,593h6v1h1v1h1v6h-1v1h-1v1h-6v-1h-1v-1h-1v-6h1v-1h1zM980,586h6v1h1v1h1v6h-1v1h-1v1h-6v-1h-1v-1h-1v-6h1v-1h1zM929,618h6v1h1v1h1v6h-1v1h-1v1h-6v-1h-1v-1h-1v-6h1v-1h1zM978,418h6v1h1v1h1v6h-1v1h-1v1h-6v-1h-1v-1h-1v-6h1v-1h1zM968,423h6v1h1v1h1v6h-1v1h-1v1h-6v-1h-1v-1h-1v-6h1v-1h1zM971,427h6v1h1v1h1v6h-1v1h-1v1h-6v-1h-1v-1h-1v-6h1v-1h1zM980,435h6v1h1v1h1v6h-1v1h-1v1h-6v-1h-1v-1h-1v-6h1v-1h1zM990,436h6v1h1v1h1v6h-1v1h-1v1h-6v-1h-1v-1h-1v-6h1v-1h1zM968,445h6v1h1v1h1v6h-1v1h-1v1h-6v-1h-1v-1h-1v-6h1v-1h1zM1031,460h6v1h1v1h1v6h-1v1h-1v1h-6v-1h-1v-1h-1v-6h1v-1h1zM1044,437h6v1h1v1h1v6h-1v1h-1v1h-6v-1h-1v-1h-1v-6h1v-1h1zM1064,454h6v1h1v1h1v6h-1v1h-1v1h-6v-1h-1v-1h-1v-6h1v-1h1zM1079,446h6v1h1v1h1v6h-1v1h-1v1h-6v-1h-1v-1h-1v-6h1v-1h1zM1137,448h6v1h1v1h1v6h-1v1h-1v1h-6v-1h-1v-1h-1v-6h1v-1h1zM1163,463h6v1h1v1h1v6h-1v1h-1v1h-6v-1h-1v-1h-1v-6h1v-1h1zM1065,472h6v1h1v1h1v6h-1v1h-1v1h-6v-1h-1v-1h-1v-6h1v-1h1zM1071,477h6v1h1v1h1v6h-1v1h-1v1h-6v-1h-1v-1h-1v-6h1v-1h1zM1098,476h6v1h1v1h1v6h-1v1h-1v1h-6v-1h-1v-1h-1v-6h1v-1h1zM1111,502h6v1h1v1h1v6h-1v1h-1v1h-6v-1h-1v-1h-1v-6h1v-1h1zM1148,511h6v1h1v1h1v6h-1v1h-1v1h-6v-1h-1v-1h-1v-6h1v-1h1zM1113,519h6v1h1v1h1v6h-1v1h-1v1h-6v-1h-1v-1h-1v-6h1v-1h1zM1057,522h6v1h1v1h1v6h-1v1h-1v1h-6v-1h-1v-1h-1v-6h1v-1h1zM1054,544h6v1h1v1h1v6h-1v1h-1v1h-6v-1h-1v-1h-1v-6h1v-1h1zM1075,546h6v1h1v1h1v6h-1v1h-1v1h-6v-1h-1v-1h-1v-6h1v-1h1zM1106,545h6v1h1v1h1v6h-1v1h-1v1h-6v-1h-1v-1h-1v-6h1v-1h1zM1030,556h6v1h1v1h1v6h-1v1h-1v1h-6v-1h-1v-1h-1v-6h1v-1h1zM1051,560h6v1h1v1h1v6h-1v1h-1v1h-6v-1h-1v-1h-1v-6h1v-1h1z"/>
<path fill="#ff0000" shape-rendering="crispEdges" d="M836,414h6v1h1v1h1v6h-1v1h-1v1h-6v-1h-1v-1h-1v-6h1v-1h1zM810,419h6v1h1v1h1v6h-1v1h-1v1h-6v-1h-1v-1h-1v-6h1v-1h1zM911,427h6v1h1v1h1v6h-1v1h-1v1h-6v-1h-1v-1h-1v-6h1v-1h1zM924,423h6v1h1v1h1v6h-1v1h-1v1h-6v-1h-1v-1h-1v-6h1v-1h1zM940,428h6v1h1v1h1v6h-1v1h-1v1h-6v-1h-1v-1h-1v-6h1v-1h1zM937,429h6v1h1v1h1v6h-1v1h-1v1h-6v-1h-1v-1h-1v-6h1v-1h1zM923,436h6v1h1v1h1v6h-1v1h-1v1h-6v-1h-1v-1h-1v-6h1v-1h1zM776,438h6v1h1v1h1v6h-1v1h-1v1h-6v-1h-1v-1h-1v-6h1v-1h1zM799,442h6v1h1v1h1v6h-1v1h-1v1h-6v-1h-1v-1h-1v-6h1v-1h1zM799,448h6v1h1v1h1v6h-1v1h-1v1h-6v-1h-1v-1h-1v-6h1v-1h1zM782,451h6v1h1v1h1v6h-1v1h-1v1h-6v-1h-1v-1h-1v-6h1v-1h1zM789,451h6v1h1v1h1v6h-1v1h-1v1h-6v-1h-1v-1h-1v-6h1v-1h1zM837,428h6v1h1v1h1v6h-1v1h-1v1h-6v-1h-1v-1h-1v-6h1v-1h1zM841,431h6v1h1v1h1v6h-1v1h-1v1h-6v-1h-1v-1h-1v-6h1v-1h1zM829,436h6v1h1v1h1v6h-1v1h-1v1h-6v-1h-1v-1h-1v-6h1v-1h1zM826,440h6v1h1v1h1v6h-1v1h-1v1h-6v-1h-1v-1h-1v-6h1v-1h1zM847,438h6v1h1v1h1v6h-1v1h-1v1h-6v-1h-1v-1h-1v-6h1v-1h1zM846,444h6v1h1v1h1v6h-1v1h-1v1h-6v-1h-1v-1h-1v-6h1v-1h1zM873,438h6v1h1v1h1v6h-1v1h-1v1h-6v-1h-1v-1h-1v-6h1v-1h1zM869,447h6v1h1v1h1v6h-1v1h-1v1h-6v-1h-1v-1h-1v-6h1v-1h1zM885,435h6v1h1v1h1v6h-1v1h-1v1h-6v-1h-1v-1h-1v-6h1v-1h1zM895,436h6v1h1v1h1v6h-1v1h-1v1h-6v-1h-1v-1h-1v-6h1v-1h1zM900,447h6v1h1v1h1v6h-1v1h-1v1h-6v-1h-1v-1h-1v-6h1v-1h1zM894,450h6v1h1v1h1v6h-1v1h-1v1h-6v-1h-1v-1h-1v-6h1v-1h1zM909,448h6v1h1v1h1v6h-1v1h-1v1h-6v-1h-1v-1h-1v-6h1v-1h1zM885,458h6v1h1v1h1v6h-1v1h-1v1h-6v-1h-1v-1h-1v-6h1v-1h1zM881,461h6v1h1v1h1v6h-1v1h-1v1h-6v-1h-1v-1h-1v-6h1v-1h1zM796,466h6v1h1v1h1v6h-1v1h-1v1h-6v-1h-1v-1h-1v-6h1v-1h1zM829,464h6v1h1v1h1v6h-1v1h-1v1h-6v-1h-1v-1h-1v-6h1v-1h1zM820,474h6v1h1v1h1v6h-1v1h-1v1h-6v-1h-1v-1h-1v-6h1v-1h1zM830,483h6v1h1v1h1v6h-1v1h-1v1h-6v-1h-1v-1h-1v-6h1v-1h1zM842,471h6v1h1v1h1v6h-1v1h-1v1h-6v-1h-1v-1h-1v-6h1v-1h1zM841,478h6v1h1v1h1v6h-1v1h-1v1h-6v-1h-1v-1h-1v-6h1v-1h1zM862,473h6v1h1v1h1v6h-1v1h-1v1h-6v-1h-1v-1h-1v-6h1v-1h1zM859,485h6v1h1v1h1v6h-1v1h-1v1h-6v-1h-1v-1h-1v-6h1v-1h1zM875,471h6v1h1v1h1v6h-1v1h-1v1h-6v-1h-1v-1h-1v-6h1v-1h1zM875,479h6v1h1v1h1v6h-1v1h-1v1h-6v-1h-1v-1h-1v-6h1v-1h1zM893,475h6v1h1v1h1v6h-1v1h-1v1h-6v-1h-1v-1h-1v-6h1v-1h1zM871,487h6v1h1v1h1v6h-1v1h-1v1h-6v-1h-1v-1h-1v-6h1v-1h1zM883,491h6v1h1v1h1v6h-1v1h-1v1h-6v-1h-1v-1h-1v-6h1v-1h1zM850,492h6v1h1v1h1v6h-1v1h-1v1h-6v-1h-1v-1h-1v-6h1v-1h1zM793,483h6v1h1v1h1v6h-1v1h-1v1h-6v-1h-1v-1h-1v-6h1v-1h1zM801,486h6v1h1v1h1v6h-1v1h-1v1h-6v-1h-1v-1h-1v-6h1v-1h1zM786,500h6v1h1v1h1v6h-1v1h-1v1h-6v-1h-1v-1h-1v-6h1v-1h1zM767,502h6v1h1v1h1v6h-1v1h-1v1h-6v-1h-1v-1h-1v-6h1v-1h1zM772,511h6v1h1v1h1v6h-1v1h-1v1h-6v-1h-1v-1h-1v-6h1v-1h1zM841,500h6v1h1v1h1v6h-1v1h-1v1h-6v-1h-1v-1h-1v-6h1v-1h1zM800,512h6v1h1v1h1v6h-1v1h-1v1h-6v-1h-1v-1h-1v-6h1v-1h1zM811,514h6v1h1v1h1v6h-1v1h-1v1h-6v-1h-1v-1h-1v-6h1v-1h1zM819,516h6v1h1v1h1v6h-1v1h-1v1h-6v-1h-1v-1h-1v-6h1v-1h1zM786,524h6v1h1v1h1v6h-1v1h-1v1h-6v-1h-1v-1h-1v-6h1v-1h1zM815,530h6v1h1v1h1v6h-1v1h-1v1h-6v-1h-1v-1h-1v-6h1v-1h1zM828,530h6v1h1v1h1v6h-1v1h-1v1h-6v-1h-1v-1h-1v-6h1v-1h1zM840,527h6v1h1v1h1v6h-1v1h-1v1h-6v-1h-1v-1h-1v-6h1v-1h1zM860,525h6v1h1v1h1v6h-1v1h-1v1h-6v-1h-1v-1h-1v-6h1v-1h1zM852,529h6v1h1v1h1v6h-1v1h-1v1h-6v-1h-1v-1h-1v-6h1v-1h1zM845,535h6v1h1v1h1v6h-1v1h-1v1h-6v-1h-1v-1h-1v-6h1v-1h1zM857,539h6v1h1v1h1v6h-1v1h-1v1h-6v-1h-1v-1h-1v-6h1v-1h1zM764,535h6v1h1v1h1v6h-1v1h-1v1h-6v-1h-1v-1h-1v-6h1v-1h1zM795,532h6v1h1v1h1v6h-1v1h-1v1h-6v-1h-1v-1h-1v-6h1v-1h1zM795,544h6v1h1v1h1v6h-1v1h-1v1h-6v-1h-1v-1h-1v-6h1v-1h1zM811,541h6v1h1v1h1v6h-1v1h-1v1h-6v-1h-1v-1h-1v-6h1v-1h1zM830,547h6v1h1v1h1v6h-1v1h-1v1h-6v-1h-1v-1h-1v-6h1v-1h1zM848,548h6v1h1v1h1v6h-1v1h-1v1h-6v-1h-1v-1h-1v-6h1v-1h1zM856,547h6v1h1v1h1v6h-1v1h-1v1h-6v-1h-1v-1h-1v-6h1v-1h1zM764,550h6v1h1v1h1v6h-1v1h-1v1h-6v-1h-1v-1h-1v-6h1v-1h1zM772,554h6v1h1v1h1v6h-1v1h-1v1h-6v-1h-1v-1h-1v-6h1v-1h1zM881,520h6v1h1v1h1v6h-1v1h-1v1h-6v-1h-1v-1h-1v-6h1v-1h1zM891,521h6v1h1v1h1v6h-1v1h-1v1h-6v-1h-1v-1h-1v-6h1v-1h1zM894,514h6v1h1v1h1v6h-1v1h-1v1h-6v-1h-1v-1h-1v-6h1v-1h1zM890,501h6v1h1v1h1v6h-1v1h-1v1h-6v-1h-1v-1h-1v-6h1v-1h1zM896,491h6v1h1v1h1v6h-1v1h-1v1h-6v-1h-1v-1h-1v-6h1v-1h1zM881,544h6v1h1v1h1v6h-1v1h-1v1h-6v-1h-1v-1h-1v-6h1v-1h1zM890,543h6v1h1v1h1v6h-1v1h-1v1h-6v-1h-1v-1h-1v-6h1v-1h1zM925,473h6v1h1v1h1v6h-1v1h-1v1h-6v-1h-1v-1h-1v-6h1v-1h1zM904,480h6v1h1v1h1v6h-1v1h-1v1h-6v-1h-1v-1h-1v-6h1v-1h1zM912,476h6v1h1v1h1v6h-1v1h-1v1h-6v-1h-1v-1h-1v-6h1v-1h1zM915,488h6v1h1v1h1v6h-1v1h-1v1h-6v-1h-1v-1h-1v-6h1v-1h1zM901,491h6v1h1v1h1v6h-1v1h-1v1h-6v-1h-1v-1h-1v-6h1v-1h1zM929,495h6v1h1v1h1v6h-1v1h-1v1h-6v-1h-1v-1h-1v-6h1v-1h1zM923,498h6v1h1v1h1v6h-1v1h-1v1h-6v-1h-1v-1h-1v-6h1v-1h1zM901,502h6v1h1v1h1v6h-1v1h-1v1h-6v-1h-1v-1h-1v-6h1v-1h1zM931,510h6v1h1v1h1v6h-1v1h-1v1h-6v-1h-1v-1h-1v-6h1v-1h1zM909,511h6v1h1v1h1v6h-1v1h-1v1h-6v-1h-1v-1h-1v-6h1v-1h1zM899,512h6v1h1v1h1v6h-1v1h-1v1h-6v-1h-1v-1h-1v-6h1v-1h1zM913,523h6v1h1v1h1v6h-1v1h-1v1h-6v-1h-1v-1h-1v-6h1v-1h1zM922,521h6v1h1v1h1v6h-1v1h-1v1h-6v-1h-1v-1h-1v-6h1v-1h1zM930,524h6v1h1v1h1v6h-1v1h-1v1h-6v-1h-1v-1h-1v-6h1v-1h1zM905,528h6v1h1v1h1v6h-1v1h-1v1h-6v-1h-1v-1h-1v-6h1v-1h1zM927,530h6v1h1v1h1v6h-1v1h-1v1h-6v-1h-1v-1h-1v-6h1v-1h1zM906,535h6v1h1v1h1v6h-1v1h-1v1h-6v-1h-1v-1h-1v-6h1v-1h1zM918,538h6v1h1v1h1v6h-1v1h-1v1h-6v-1h-1v-1h-1v-6h1v-1h1zM908,540h6v1h1v1h1v6h-1v1h-1v1h-6v-1h-1v-1h-1v-6h1v-1h1zM904,547h6v1h1v1h1v6h-1v1h-1v1h-6v-1h-1v-1h-1v-6h1v-1h1zM925,550h6v1h1v1h1v6h-1v1h-1v1h-6v-1h-1v-1h-1v-6h1v-1h1zM949,550h6v1h1v1h1v6h-1v1h-1v1h-6v-1h-1v-1h-1v-6h1v-1h1zM771,564h6v1h1v1h1v6h-1v1h-1v1h-6v-1h-1v-1h-1v-6h1v-1h1zM788,566h6v1h1v1h1v6h-1v1h-1v1h-6v-1h-1v-1h-1v-6h1v-1h1zM799,562h6v1h1v1h1v6h-1v1h-1v1h-6v-1h-1v-1h-1v-6h1v-1h1zM804,568h6v1h1v1h1v6h-1v1h-1v1h-6v-1h-1v-1h-1v-6h1v-1h1zM777,578h6v1h1v1h1v6h-1v1h-1v1h-6v-1h-1v-1h-1v-6h1v-1h1zM791,587h6v1h1v1h1v6h-1v1h-1v1h-6v-1h-1v-1h-1v-6h1v-1h1zM825,558h6v1h1v1h1v6h-1v1h-1v1h-6v-1h-1v-1h-1v-6h1v-1h1zM819,564h6v1h1v1h1v6h-1v1h-1v1h-6v-1h-1v-1h-1v-6h1v-1h1zM847,560h6v1h1v1h1v6h-1v1h-1v1h-6v-1h-1v-1h-1v-6h1v-1h1zM841,566h6v1h1v1h1v6h-1v1h-1v1h-6v-1h-1v-1h-1v-6h1v-1h1zM857,562h6v1h1v1h1v6h-1v1h-1v1h-6v-1h-1v-1h-1v-6h1v-1h1zM846,569h6v1h1v1h1v6h-1v1h-1v1h-6v-1h-1v-1h-1v-6h1v-1h1zM841,577h6v1h1v1h1v6h-1v1h-1v1h-6v-1h-1v-1h-1v-6h1v-1h1zM825,586h6v1h1v1h1v6h-1v1h-1v1h-6v-1h-1v-1h-1v-6h1v-1h1zM841,585h6v1h1v1h1v6h-1v1h-1v1h-6v-1h-1v-1h-1v-6h1v-1h1zM834,588h6v1h1v1h1v6h-1v1h-1v1h-6v-1h-1v-1h-1v-6h1v-1h1zM835,597h6v1h1v1h1v6h-1v1h-1v1h-6v-1h-1v-1h-1v-6h1v-1h1zM861,606h6v1h1v1h1v6h-1v1h-1v1h-6v-1h-1v-1h-1v-6h1v-1h1zM868,571h6v1h1v1h1v6h-1v1h-1v1h-6v-1h-1v-1h-1v-6h1v-1h1zM875,573h6v1h1v1h1v6h-1v1h-1v1h-6v-1h-1v-1h-1v-6h1v-1h1zM882,574h6v1h1v1h1v6h-1v1h-1v1h-6v-1h-1v-1h-1v-6h1v-1h1zM915,559h6v1h1v1h1v6h-1v1h-1v1h-6v-1h-1v-1h-1v-6h1v-1h1zM901,568h6v1h1v1h1v6h-1v1h-1v1h-6v-1h-1v-1h-1v-6h1v-1h1zM939,567h6v1h1v1h1v6h-1v1h-1v1h-6v-1h-1v-1h-1v-6h1v-1h1zM930,574h6v1h1v1h1v6h-1v1h-1v1h-6v-1h-1v-1h-1v-6h1v-1h1zM941,575h6v1h1v1h1v6h-1v1h-1v1h-6v-1h-1v-1h-1v-6h1v-1h1zM934,581h6v1h1v1h1v6h-1v1h-1v1h-6v-1h-1v-1h-1v-6h1v-1h1zM919,583h6v1h1v1h1v6h-1v1h-1v1h-6v-1h-1v-1h-1v-6h1v-1h1zM918,596h6v1h1v1h1v6h-1v1h-1v1h-6v-1h-1v-1h-1v-6h1v-1h1z"/>
<g stroke="#000" stroke-linecap="butt" fill="none"><line x1="845.1" y1="515.2" x2="874.1" y2="515.2" stroke-width="4.7"/><line x1="859.6" y1="500.7" x2="859.6" y2="529.7" stroke-width="4.5"/><line x1="849.9" y1="505.5" x2="869.3" y2="524.9" stroke-width="4.6"/><line x1="849.9" y1="524.9" x2="869.3" y2="505.5" stroke-width="4.6"/></g>
</g>
<g stroke="#262626" fill="none"><line x1="747.44" y1="699.5" x2="747.44" y2="692.5" stroke-width="3"/><line x1="747.44" y1="325.5" x2="747.44" y2="332.5" stroke-width="3"/><line x1="934.38" y1="699.5" x2="934.38" y2="692.5" stroke-width="3"/><line x1="934.38" y1="325.5" x2="934.38" y2="332.5" stroke-width="3"/><line x1="1121.32" y1="699.5" x2="1121.32" y2="692.5" stroke-width="3"/><line x1="1121.32" y1="325.5" x2="1121.32" y2="332.5" stroke-width="3"/><line x1="560.5" y1="630.31" x2="567.5" y2="630.31" stroke-width="3"/><line x1="1181.0" y1="630.31" x2="1174.0" y2="630.31" stroke-width="3"/><line x1="560.5" y1="541.94" x2="567.5" y2="541.94" stroke-width="3"/><line x1="1181.0" y1="541.94" x2="1174.0" y2="541.94" stroke-width="3"/><line x1="560.5" y1="453.57" x2="567.5" y2="453.57" stroke-width="3"/><line x1="1181.0" y1="453.57" x2="1174.0" y2="453.57" stroke-width="3"/><line x1="560.5" y1="365.20" x2="567.5" y2="365.20" stroke-width="3"/><line x1="1181.0" y1="365.20" x2="1174.0" y2="365.20" stroke-width="3"/><line x1="560.5" y1="324.0" x2="560.5" y2="701.0" stroke-width="3"/><line x1="1181.0" y1="324.0" x2="1181.0" y2="701.0" stroke-width="4"/><line x1="559.0" y1="325.5" x2="1183.0" y2="325.5" stroke-width="3"/><line x1="559.0" y1="699.5" x2="1183.0" y2="699.5" stroke-width="3"/></g>
<g font-family="'Liberation Sans', Arial, Helvetica, sans-serif" font-size="40.2" fill="#262626" stroke="#262626" stroke-width="1.3" stroke-linejoin="round"><text transform="translate(560.5,749.0) scale(1,1.0)" text-anchor="middle">12</text><text transform="translate(747.4,749.0) scale(1,1.0)" text-anchor="middle">14</text><text transform="translate(934.4,749.0) scale(1,1.0)" text-anchor="middle">16</text><text transform="translate(1121.3,749.0) scale(1,1.0)" text-anchor="middle">18</text><text transform="translate(549.0,645.9) scale(1,1.0)" text-anchor="end">79</text><text transform="translate(549.0,557.5) scale(1,1.0)" text-anchor="end">80</text><text transform="translate(549.0,469.2) scale(1,1.0)" text-anchor="end">81</text><text transform="translate(549.0,380.8) scale(1,1.0)" text-anchor="end">82</text></g>
<line x1="470.6" y1="192" x2="536" y2="286" stroke="#000" stroke-width="3.7" stroke-linecap="round"/>
<polygon points="554,312.5 511,282.5 535.5,284.5 541.5,263" fill="#000"/>
</svg>
</body></html>
